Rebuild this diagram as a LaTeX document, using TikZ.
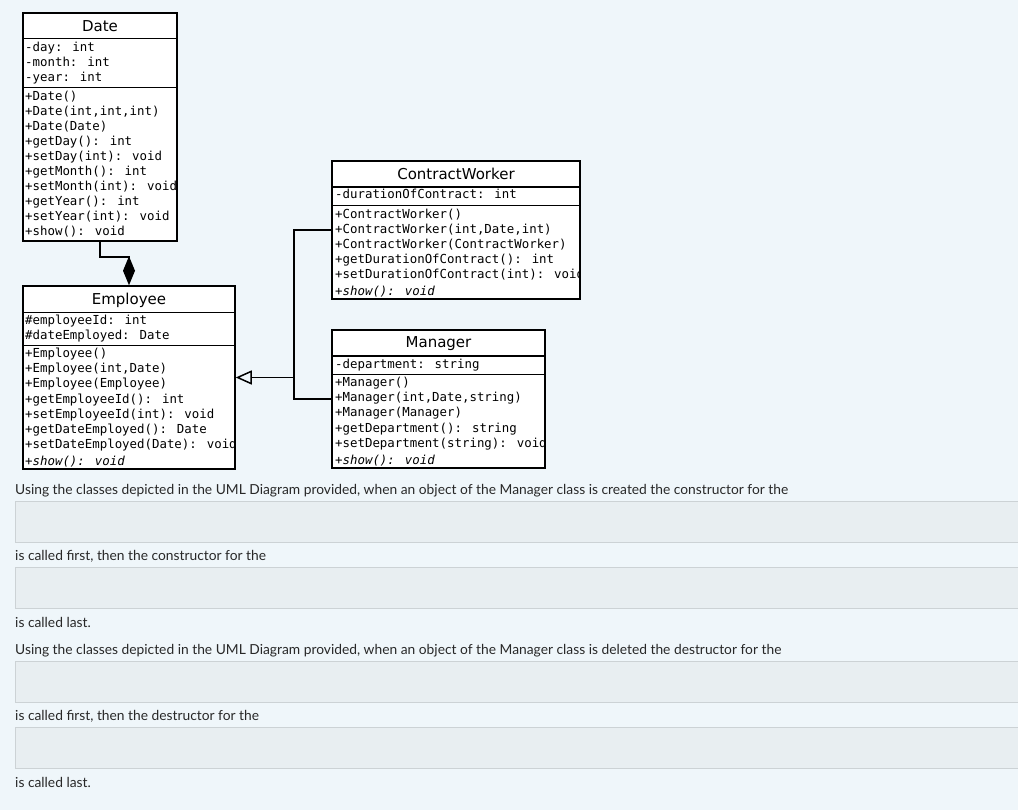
\documentclass[tikz,border=0pt]{standalone}
\usepackage{fontspec}
\setmainfont{Lato}
\newfontfamily\umlmono{DejaVu Sans Mono}
\newfontfamily\umlsans{DejaVu Sans}
\usetikzlibrary{arrows.meta}
\definecolor{pagebg}{RGB}{239,246,250}
\definecolor{fieldbg}{RGB}{232,238,241}
\definecolor{fieldline}{RGB}{204,210,213}
\definecolor{qcol}{RGB}{40,40,40}
\tikzset{
 classbox/.style={draw=black, line width=1.5pt, fill=white, inner sep=0pt, rectangle},
 sepline/.style={line width=1.5pt},
 mem/.style={anchor=base west, inner sep=0pt, font=\umlmono\fontsize{12.4}{15}\selectfont},
 ttl/.style={anchor=base, inner sep=0pt, font=\umlsans\fontsize{15}{17}\selectfont},
 conn/.style={line width=1.5pt},
 field/.style={draw=fieldline, fill=fieldbg, line width=1pt, anchor=north west, inner sep=0pt, minimum width=1010pt, minimum height=41pt},
 qtext/.style={anchor=base west, inner sep=0pt, font=\fontsize{13.8}{16}\selectfont, text=qcol},
}
\begin{document}
\begin{tikzpicture}[x=1pt,y=-1pt]
\clip (0,0) rectangle (1018,810);
\fill[pagebg] (0,0) rectangle (1018,810);

% ---------- Date ----------
\node[classbox, minimum width=154pt, minimum height=228pt] (date) at (100,127) {};
\begin{scope}
\clip (date.north west) rectangle (date.south east);
\node[ttl] (dateT) at (100,32) {Date};
\node[mem] (da1) at (25,52) {-day: int};
\node[mem] (da2) at (25,67) {-month: int};
\node[mem] (da3) at (25,82) {-year: int};
\node[mem] (dm1) at (25,101) {+Date()};
\node[mem] (dm2) at (25,116) {+Date(int,int,int)};
\node[mem] (dm3) at (25,131) {+Date(Date)};
\node[mem] (dm4) at (25,146) {+getDay(): int};
\node[mem] (dm5) at (25,161) {+setDay(int): void};
\node[mem] (dm6) at (25,176) {+getMonth(): int};
\node[mem] (dm7) at (25,191) {+setMonth(int): void};
\node[mem] (dm8) at (25,206) {+getYear(): int};
\node[mem] (dm9) at (25,221) {+setYear(int): void};
\node[mem] (dm10) at (25,236) {+show(): void};
\end{scope}
\draw[sepline] (date.west |- 0,38.5) -- (date.east |- 0,38.5);
\draw[sepline] (date.west |- 0,87.5) -- (date.east |- 0,87.5);

% ---------- Employee ----------
\node[classbox, minimum width=212pt, minimum height=183pt] (emp) at (129,377.5) {};
\begin{scope}
\clip (emp.north west) rectangle (emp.south east);
\node[ttl] (empT) at (129,305) {Employee};
\node[mem] (ea1) at (25,325) {\#employeeId: int};
\node[mem] (ea2) at (25,340) {\#dateEmployed: Date};
\node[mem] (em1) at (25,358) {+Employee()};
\node[mem] (em2) at (25,373) {+Employee(int,Date)};
\node[mem] (em3) at (25,388) {+Employee(Employee)};
\node[mem] (em4) at (25,403) {+getEmployeeId(): int};
\node[mem] (em5) at (25,418) {+setEmployeeId(int): void};
\node[mem] (em6) at (25,433) {+getDateEmployed(): Date};
\node[mem] (em7) at (25,448) {+setDateEmployed(Date): void};
\node[mem] (em8) at (25,465) {\itshape +show(): void};
\end{scope}
\draw[sepline] (emp.west |- 0,312.5) -- (emp.east |- 0,312.5);
\draw[sepline] (emp.west |- 0,345.5) -- (emp.east |- 0,345.5);

% ---------- ContractWorker ----------
\node[classbox, minimum width=248pt, minimum height=138pt] (cw) at (456,230) {};
\begin{scope}
\clip (cw.north west) rectangle (cw.south east);
\node[ttl] (cwT) at (456,180) {ContractWorker};
\node[mem] (ca1) at (335,199) {-durationOfContract: int};
\node[mem] (cm1) at (335,219) {+ContractWorker()};
\node[mem] (cm2) at (335,234) {+ContractWorker(int,Date,int)};
\node[mem] (cm3) at (335,249) {+ContractWorker(ContractWorker)};
\node[mem] (cm4) at (335,264) {+getDurationOfContract(): int};
\node[mem] (cm5) at (335,279) {+setDurationOfContract(int): void};
\node[mem] (cm6) at (335,296) {\itshape +show(): void};
\end{scope}
\draw[sepline] (cw.west |- 0,187) -- (cw.east |- 0,187);
\draw[sepline] (cw.west |- 0,205.5) -- (cw.east |- 0,205.5);

% ---------- Manager ----------
\node[classbox, minimum width=213pt, minimum height=138pt] (mgr) at (438.5,399) {};
\begin{scope}
\clip (mgr.north west) rectangle (mgr.south east);
\node[ttl] (mgrT) at (438.5,348) {Manager};
\node[mem] (ma1) at (335,369) {-department: string};
\node[mem] (mm1) at (335,387) {+Manager()};
\node[mem] (mm2) at (335,402) {+Manager(int,Date,string)};
\node[mem] (mm3) at (335,417) {+Manager(Manager)};
\node[mem] (mm4) at (335,432) {+getDepartment(): string};
\node[mem] (mm5) at (335,447) {+setDepartment(string): void};
\node[mem] (mm6) at (335,464) {\itshape +show(): void};
\end{scope}
\draw[sepline] (mgr.west |- 0,356) -- (mgr.east |- 0,356);
\draw[sepline] (mgr.west |- 0,374.5) -- (mgr.east |- 0,374.5);

% ---------- connectors ----------
\coordinate (cbend) at (129,257);
\draw[conn, -{Diamond[length=29pt, width=12pt]}] (date.south) |- (cbend) -- (emp.north);
\coordinate (junc) at (294,377.5);
\draw[conn] (cw.west) -| (junc) |- (mgr.west);
\draw[conn, -{Triangle[open, length=16pt, width=14pt, line width=1.5pt]}] (junc) -- (emp.east);

% ---------- question text ----------
\node[qtext] (q1) at (15,494.5) {Using the classes depicted in the UML Diagram provided, when an object of the Manager class is created the constructor for the};
\node[field] (f1) at (15,500.5) {};
\node[qtext] (q2) at (15,560.5) {is called first, then the constructor for the};
\node[field] (f2) at (15,567) {};
\node[qtext] (q3) at (15,627.5) {is called last.};
\node[qtext] (q4) at (15,654.5) {Using the classes depicted in the UML Diagram provided, when an object of the Manager class is deleted the destructor for the};
\node[field] (f3) at (15,661) {};
\node[qtext] (q5) at (15,720.5) {is called first, then the destructor for the};
\node[field] (f4) at (15,727) {};
\node[qtext] (q6) at (15,787.5) {is called last.};
\end{tikzpicture}
\end{document}
